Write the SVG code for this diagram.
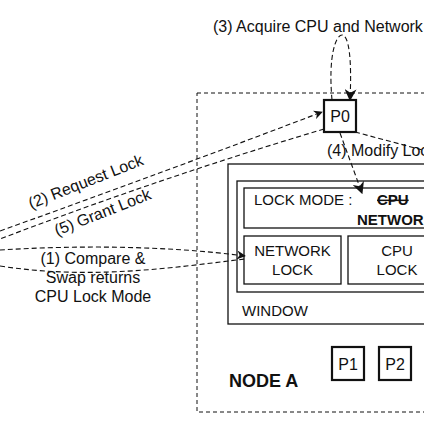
<svg xmlns="http://www.w3.org/2000/svg" width="424" height="424" viewBox="0 0 424 424">
<style>
text{font-family:"Liberation Sans",Arial,sans-serif;fill:#111;}
.t16{font-size:16px;}
.t15{font-size:15px;}
.b{font-weight:bold;}
.dash{fill:none;stroke:#111;stroke-width:1.1;stroke-dasharray:5 3;}
.box{fill:#fff;stroke:#111;stroke-width:1.3;}
.pbox{fill:#fff;stroke:#111;stroke-width:2.2;}
</style>
<defs>
<marker id="arr" viewBox="0 0 10 10" refX="9" refY="5" markerWidth="9" markerHeight="9" markerUnits="userSpaceOnUse" orient="auto">
<path d="M0,0 L10,5 L0,10 L3,5 z" fill="#111"/>
</marker>
<marker id="arrL" viewBox="0 0 10 10" refX="9" refY="5" markerWidth="12" markerHeight="12" markerUnits="userSpaceOnUse" orient="auto">
<path d="M0,0 L10,5 L0,10 L3,5 z" fill="#111"/>
</marker>
</defs>

<g id="nodeA">
<rect x="197" y="93" width="260" height="319" fill="none" stroke="#111" stroke-width="1" stroke-dasharray="4 3"/>
<text class="b" x="229" y="387" font-size="18">NODE A</text>
</g>

<g id="window">
<rect class="box" x="228" y="164" width="230" height="160"/>
<text class="t15" x="242" y="316">WINDOW</text>
</g>
<g id="lockArea">
<rect class="box" x="237" y="181" width="220" height="111"/>
</g>
<g id="lockMode">
<rect class="box" x="244" y="188" width="210" height="40"/>
<text class="t15" x="254" y="205">LOCK MODE :</text>
<text class="t15 b" x="377" y="205" text-decoration="line-through">CPU</text>
<text class="t15 b" x="357" y="225">NETWORK</text>
</g>
<g id="networkLock">
<rect class="box" x="244" y="236" width="97" height="48"/>
<text class="t15" x="292.5" y="256" text-anchor="middle">NETWORK</text>
<text class="t15" x="292.5" y="275" text-anchor="middle">LOCK</text>
</g>
<g id="cpuLock">
<rect class="box" x="348" y="236" width="97" height="48"/>
<text class="t15" x="397" y="256" text-anchor="middle">CPU</text>
<text class="t15" x="397" y="275" text-anchor="middle">LOCK</text>
</g>
<g id="P0">
<rect class="pbox" x="324" y="100" width="32" height="32"/>
<text class="t16" x="340" y="122" text-anchor="middle">P0</text>
</g>
<g id="P1">
<rect class="pbox" x="332" y="347" width="32" height="33"/>
<text class="t16" x="348" y="370" text-anchor="middle">P1</text>
</g>
<g id="P2">
<rect class="pbox" x="379" y="347" width="32" height="33"/>
<text class="t16" x="395" y="370" text-anchor="middle">P2</text>
</g>

<g id="connectors">
<path class="dash" d="M332,100 C328,55 336,35 342,35 C349,35 352,60 350,100" marker-end="url(#arrL)"/>
<path class="dash" d="M0,231 Q170,170 322,112" marker-end="url(#arr)"/>
<path class="dash" d="M324,129 Q160,178 0,239"/>
<path class="dash" d="M340,133 L362,193" marker-end="url(#arrL)"/>
<path class="dash" d="M355,132 L430,152"/>
<path class="dash" d="M0,250 C80,245 170,246 245,256" marker-end="url(#arr)"/>
<path class="dash" d="M0,266 C90,280 170,268 245,259"/>
</g>

<g id="labels">
<text class="t16" x="213" y="32">(3) Acquire CPU and Network</text>
<text class="t16" x="327" y="156">(4) Modify Lock</text>
<text class="t16" transform="translate(31,209) rotate(-21.5)">(2) Request Lock</text>
<text class="t16" transform="translate(57,236) rotate(-21.5)">(5) Grant Lock</text>
<text class="t16" x="93" y="264" text-anchor="middle">(1) Compare &amp;</text>
<text class="t16" x="93" y="283" text-anchor="middle">Swap returns</text>
<text class="t16" x="93" y="302" text-anchor="middle">CPU Lock Mode</text>
</g>
</svg>
